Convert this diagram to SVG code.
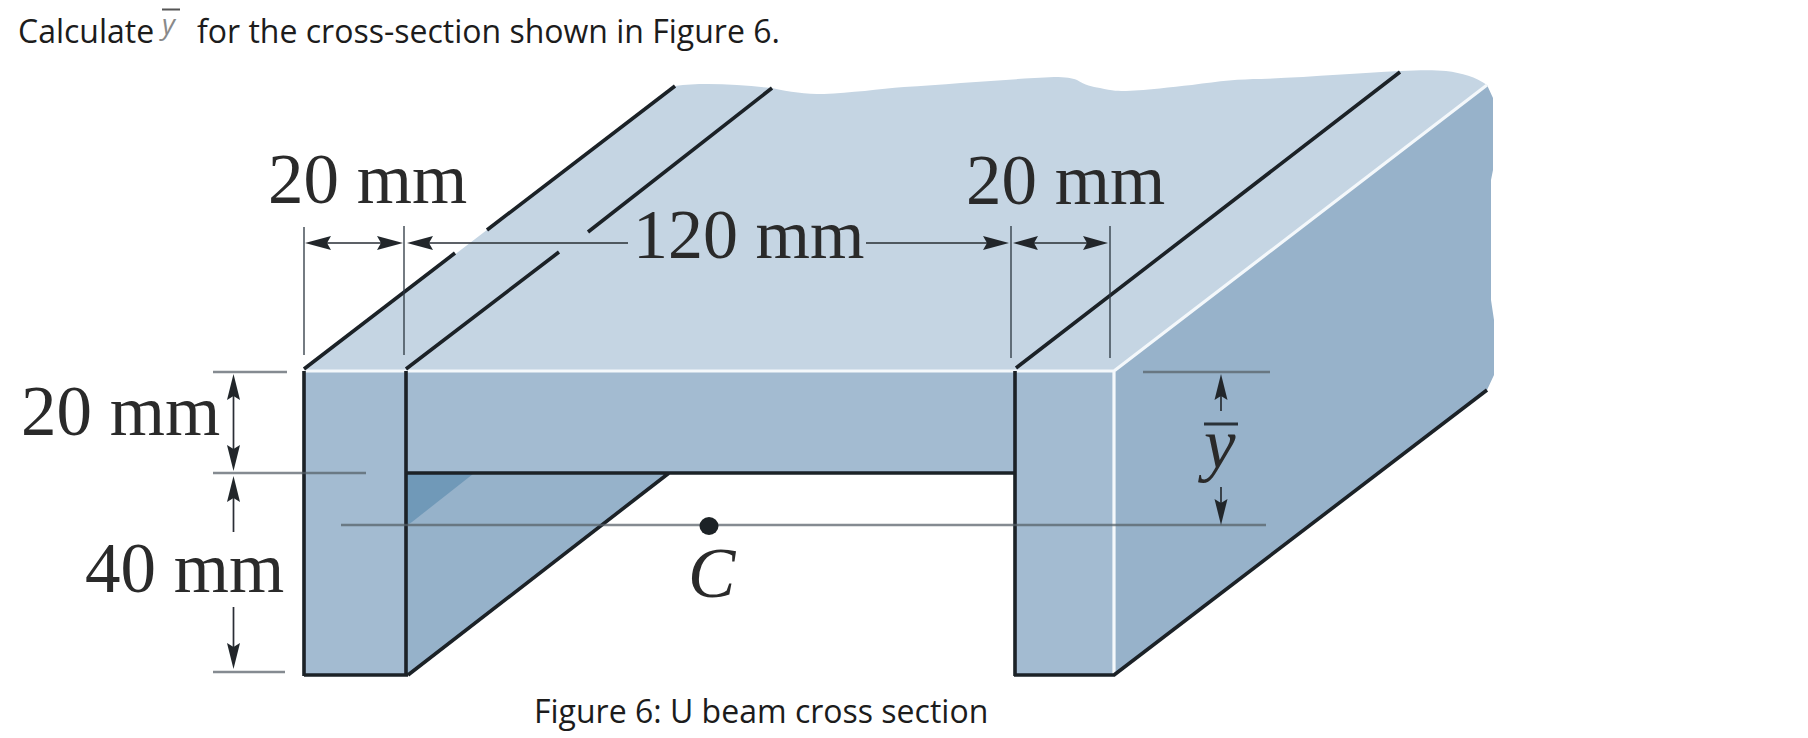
<svg xmlns="http://www.w3.org/2000/svg" width="1808" height="738" viewBox="0 0 1808 738">
<defs><filter id="soft" x="-5%" y="-5%" width="110%" height="110%"><feGaussianBlur stdDeviation="0.6"/></filter></defs>
<style>
.sans{font-family:"Open Sans","Noto Sans",sans-serif;font-size:32px;fill:#1c1c1c}
.dim{font-family:"Liberation Serif",serif;font-size:71px;fill:#2a2a2a}
.it{font-style:italic}
.edge{fill:none;stroke:#1a2028;stroke-width:3.6}
.ext{fill:none;stroke:#2b3640;stroke-width:1.3}
.tick{fill:none;stroke:#555f66;stroke-opacity:.72;stroke-width:2.6}
.ln{fill:none;stroke:#2a2f35;stroke-width:1.7}
.hd{fill:#22272c}
.wh{fill:none;stroke:#f4f8fb;stroke-width:3.2}
</style>
<rect width="1808" height="738" fill="#fff"/>
<g filter="url(#soft)">
<g id="beam">
<path id="top-face" fill="#c5d5e3" d="M304 370L675 86C705 82 740 85 772 88C790 92 805 94 824 94C850 93 880 89 904 87C950 84 1010 79 1054 77C1066 77 1072 78 1077 80C1085 85 1092 87 1100 88C1112 91 1120 91 1126 91C1150 90 1170 87 1192 85C1220 81 1240 79 1261 79C1310 77 1360 73 1400 71C1420 70 1435 70 1446 71C1462 73 1476 77 1487 85L1114 372H304Z"/>
<path id="side-face" fill="#97b2ca" d="M1114 371L1487 85L1493 98V170L1491 180V300L1494 320V375L1487 390L1114 675Z"/>
<path id="inner-face" fill="#96b2ca" d="M406 473H669L408 675H406Z"/>
<path id="shadow" fill="#7099b8" d="M407 474H473L412 522L407 525Z"/>
<rect id="web-front" x="406" y="372" width="608" height="101" fill="#a3bbd1"/>
<rect id="left-flange" x="304" y="372" width="102" height="303" fill="#a3bbd1"/>
<rect id="right-flange" x="1015" y="372" width="99" height="303" fill="#a3bbd1"/>
<path class="wh" d="M304 371H1114V675M1114 371L1487 85"/>
<path class="edge" d="M304 371V676M406 371V676M1015 371V676M406 473H1015M304 675H408M1014 675H1115M304 369L455 253M487 230L675 86M406 369L559 252M588 232L772 88M1016 368L1400 72M408 675L669 473M1114 675L1487 390" />
</g>
<g id="connectors">
<path class="ext" d="M304 227V355M404 226V355M1011 226V358M1110 226V358"/>
<path class="ln" d="M320 243H388M425 243H628M866 243H995M1028 243H1092M233.500 388V455M233.500 492V532M233.500 607V655M1221 390V411M1221 487V512"/>
<path class="tick" d="M213 372H287M213 473H366M213 672H285M1143 372H1270M341 525H1266"/>
<path class="hd" d="M305 243L331 236L327 243L331 250ZM403 243L377 236L381 243L377 250ZM407 243L433 236L429 243L433 250ZM1009 243L983 236L987 243L983 250ZM1013 243L1038 236L1034 243L1038 250ZM1108 243L1083 236L1087 243L1083 250ZM233.500 374L227 400L233.500 396L240 400ZM233.500 471L227 445L233.500 449L240 445ZM233.500 476L227 502L233.500 498L240 502ZM233.500 669L227 643L233.500 647L240 643ZM1221 374L1214.500 400L1221 396L1227.500 400ZM1221 525L1214.500 499L1221 503L1227.500 499Z"/>
</g>
<g id="centroid"><ellipse cx="709" cy="526" rx="9.500" ry="9" fill="#1f2226"/><text class="dim it" x="688" y="597">C</text></g>
<g id="label-20-top-left"><text class="dim" x="268" y="203">20 mm</text></g>
<g id="label-120"><text class="dim" x="633" y="258" style="font-size:70px">120 mm</text></g>
<g id="label-20-top-right"><text class="dim" x="966" y="204">20 mm</text></g>
<g id="label-20-left"><text class="dim" x="21" y="435">20 mm</text></g>
<g id="label-40-left"><text class="dim" x="85" y="592">40 mm</text></g>
<g id="label-ybar"><rect x="1204" y="422.500" width="34" height="3" fill="#2a3138"/><text class="dim it" x="1204" y="468">y</text></g>
</g>
<g id="heading">
<text class="sans" x="18" y="43">Calculate</text>
<rect x="162" y="8.500" width="18" height="2" fill="#555"/>
<text x="162" y="34" font-family="&quot;Open Sans&quot;,sans-serif" font-style="italic" font-size="28" fill="#8a8a8a">y</text>
<text class="sans" x="197" y="43">for the cross-section shown in Figure 6.</text>
</g>
<g id="caption"><text class="sans" x="534" y="723">Figure 6: U beam cross section</text></g>
</svg>
